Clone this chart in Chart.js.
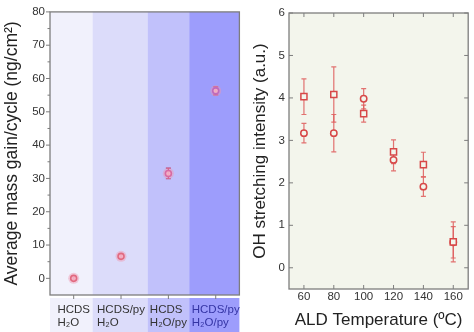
<!DOCTYPE html>
<html>
<head>
<meta charset="utf-8">
<script src="https://cdn.jsdelivr.net/npm/chart.js@4/dist/chart.umd.min.js"></script>
<style>
  body { margin: 0; background: #fff; }
  #wrap { position: relative; width: 474px; height: 332px; }
  canvas { position: absolute; top: 0; }
</style>
</head>
<body>
<div id="wrap">
  <canvas id="mass" width="245" height="332" style="left:0"></canvas>
  <canvas id="oh" width="229" height="332" style="left:245px"></canvas>
</div>
<script>
// left panel: mass gain per cycle for each precursor combination
const massPos = [1, 2, 3, 4];
const massLabels = [['HCDS', 'H₂O'], ['HCDS/py', 'H₂O'], ['HCDS', 'H₂O/py'], ['HCDS/py', 'H₂O/py']];
const massGain = [0, 6.6, 31.5, 56.3];
const massErr = [0.4, 0.5, 1.6, 1.2];
const bandEdges = [0.5, 1.4, 2.56, 3.44, 4.5];
const massTicks = [0, 10, 20, 30, 40, 50, 60, 70, 80];

// right panel: OH stretching intensity vs ALD temperature
const temps = [60, 80, 100, 120, 140, 160];
const ohSquare = [4.03, 4.08, 3.63, 2.73, 2.43, 0.61];
const ohSquareErr = [0.42, 0.65, 0.2, 0.28, 0.29, 0.47];
const ohCircle = [3.17, 3.17, 3.98, 2.54, 1.91, 0.6];
const ohCircleErr = [0.23, 0.44, 0.24, 0.26, 0.23, 0.37];
const ohTicks = [0, 1, 2, 3, 4, 5, 6];
const tempTicks = [60, 80, 100, 120, 140, 160];

const bandColors = ['#f1f1fc', '#dcdcfa', '#c1c1fb', '#9d9dfc'];
const labelColors = ['#333', '#333', '#333', '#3434a4'];
const massPointColors = ['#d6455a', '#d6455a', '#c64497', '#9a46c6'];
const axisGray = '#7d7d7d';
const red = '#d74848';
const fontFamily = 'Liberation Sans, Arial, sans-serif';

Chart.defaults.font.family = fontFamily;
Chart.defaults.color = '#333';

function pts(xs, ys) {
  return xs.map((x, i) => ({x: x, y: ys[i]}));
}

// vertical error bars drawn under the markers
const errorBars = {
  id: 'errorBars',
  beforeDatasetsDraw(chart) {
    const ctx = chart.ctx, xs = chart.scales.x, ys = chart.scales.y;
    chart.data.datasets.forEach(ds => {
      if (!ds.errors) return;
      ds.data.forEach((p, i) => {
        const x = xs.getPixelForValue(p.x);
        const y0 = ys.getPixelForValue(p.y - ds.errors[i]);
        const y1 = ys.getPixelForValue(p.y + ds.errors[i]);
        ctx.save();
        ctx.strokeStyle = ds.errColor;
        ctx.lineWidth = 1.2;
        ctx.beginPath();
        ctx.moveTo(x, y0); ctx.lineTo(x, y1);
        ctx.moveTo(x - 2.5, y0); ctx.lineTo(x + 2.5, y0);
        ctx.moveTo(x - 2.5, y1); ctx.lineTo(x + 2.5, y1);
        ctx.stroke();
        ctx.restore();
      });
    });
  }
};

// frame, tick marks, background; opts: inward, mirror, minor, bands, bg
function frame(opts) {
  return {
    id: 'frame',
    beforeDraw(chart) {
      const ctx = chart.ctx, a = chart.chartArea;
      const xs = chart.scales.x;
      ctx.save();
      if (opts.bg) {
        ctx.fillStyle = opts.bg;
        ctx.fillRect(a.left, a.top, a.right - a.left, a.bottom - a.top);
      }
      if (opts.bands) {
        for (let i = 0; i < bandColors.length; i++) {
          const x0 = xs.getPixelForValue(bandEdges[i]);
          const x1 = xs.getPixelForValue(bandEdges[i + 1]);
          ctx.fillStyle = bandColors[i];
          ctx.fillRect(x0, a.top, x1 - x0, a.bottom - a.top);
          ctx.fillRect(x0, a.bottom + 3, x1 - x0, chart.height - a.bottom - 3);
        }
        // two-line category labels, left aligned inside a centred block
        ctx.font = '11.5px ' + fontFamily;
        ctx.textBaseline = 'middle';
        ctx.textAlign = 'left';
        massPos.forEach((v, i) => {
          const lines = massLabels[i];
          const w = Math.max(...lines.map(t => ctx.measureText(t).width));
          const x = xs.getPixelForValue(v) - w / 2;
          ctx.fillStyle = labelColors[i];
          lines.forEach((t, j) => ctx.fillText(t, x, a.bottom + 15 + j * 13.3));
        });
      }
      ctx.restore();
    },
    afterDraw(chart) {
      const ctx = chart.ctx, a = chart.chartArea;
      const xs = chart.scales.x, ys = chart.scales.y;
      const d = opts.inward ? 1 : -1;
      ctx.save();
      ctx.strokeStyle = axisGray;
      ctx.lineWidth = 1.3;
      ctx.strokeRect(a.left, a.top, a.right - a.left, a.bottom - a.top);
      ctx.lineWidth = 1;
      ctx.beginPath();
      xs.ticks.forEach(t => {
        const x = xs.getPixelForValue(t.value);
        ctx.moveTo(x, a.bottom); ctx.lineTo(x, a.bottom - d * 4);
        if (opts.mirror) { ctx.moveTo(x, a.top); ctx.lineTo(x, a.top + 4); }
      });
      ys.ticks.forEach(t => {
        const y = ys.getPixelForValue(t.value);
        ctx.moveTo(a.left, y); ctx.lineTo(a.left + d * 4, y);
        if (opts.mirror) { ctx.moveTo(a.right, y); ctx.lineTo(a.right - 4, y); }
      });
      if (opts.minor) {
        const step = ys.ticks[1].value - ys.ticks[0].value;
        for (let i = 0; i < ys.ticks.length; i++) {
          const v = ys.ticks[i].value + step / 2;
          if (v > ys.max) break;
          const y = ys.getPixelForValue(v);
          ctx.moveTo(a.left, y); ctx.lineTo(a.left + d * 2.5, y);
        }
      }
      ctx.stroke();
      ctx.restore();
    }
  };
}

new Chart(document.getElementById('mass'), {
  type: 'scatter',
  data: {
    datasets: [{
      data: pts(massPos, massGain),
      pointRadius: 5.5,
      backgroundColor: 'rgba(240,150,175,0.45)',
      borderWidth: 0
    }, {
      data: pts(massPos, massGain),
      errors: massErr,
      errColor: '#c04070',
      pointRadius: 3,
      borderWidth: 1.6,
      borderColor: massPointColors,
      backgroundColor: 'rgba(250,200,215,0.9)'
    }]
  },
  options: {
    responsive: false,
    animation: false,
    layout: {padding: {top: 5, right: 2, left: 0, bottom: 0}},
    plugins: {legend: {display: false}, tooltip: {enabled: false}},
    scales: {
      x: {
        type: 'linear', min: 0.5, max: 4.5,
        afterBuildTicks: s => { s.ticks = massPos.map(v => ({value: v})); },
        afterFit: s => { s.height = 37; },
        grid: {display: false, drawTicks: false},
        border: {display: false},
        ticks: {display: false}
      },
      y: {
        min: -5, max: 80,
        afterBuildTicks: s => { s.ticks = massTicks.map(v => ({value: v})); },
        afterFit: s => { s.width = 50; },
        grid: {display: false, drawTicks: false},
        border: {display: false},
        ticks: {padding: 5, font: {size: 11.5}},
        title: {
          display: true,
          text: 'Average mass gain/cycle (ng/cm²)',
          font: {size: 17.5},
          color: '#222',
          padding: {top: 2, bottom: 0}
        }
      }
    }
  },
  plugins: [frame({bands: true, inward: false, mirror: false, minor: true}), errorBars]
});

new Chart(document.getElementById('oh'), {
  type: 'scatter',
  data: {
    datasets: [{
      data: pts(temps, ohSquare),
      errors: ohSquareErr,
      errColor: 'rgba(222,90,90,0.85)',
      pointStyle: 'rect',
      pointRadius: 4.3,
      borderWidth: 1.5,
      borderColor: red,
      backgroundColor: '#f3f5ec'
    }, {
      data: pts(temps, ohCircle),
      errors: ohCircleErr,
      errColor: 'rgba(222,90,90,0.85)',
      pointStyle: 'circle',
      pointRadius: 3.2,
      borderWidth: 1.5,
      borderColor: red,
      backgroundColor: '#f3f5ec'
    }]
  },
  options: {
    responsive: false,
    animation: false,
    layout: {padding: {top: 13, right: 2, left: 0, bottom: 0}},
    plugins: {legend: {display: false}, tooltip: {enabled: false}},
    scales: {
      x: {
        type: 'linear', min: 50, max: 170,
        afterBuildTicks: s => { s.ticks = tempTicks.map(v => ({value: v})); },
        afterFit: s => { s.height = 43; },
        grid: {display: false, drawTicks: false},
        border: {display: false},
        ticks: {padding: 1, font: {size: 11.5}},
        title: {
          display: true,
          text: 'ALD Temperature (ºC)',
          font: {size: 17},
          color: '#222',
          padding: {top: 0, bottom: 1}
        }
      },
      y: {
        min: -0.5, max: 6,
        afterBuildTicks: s => { s.ticks = ohTicks.map(v => ({value: v})); },
        afterFit: s => { s.width = 44; },
        grid: {display: false, drawTicks: false},
        border: {display: false},
        ticks: {padding: 4, font: {size: 11.5}},
        title: {
          display: true,
          text: 'OH stretching intensity (a.u.)',
          font: {size: 17},
          color: '#222',
          padding: {top: 5.5, bottom: 0}
        }
      }
    }
  },
  plugins: [frame({bg: '#f3f5ec', inward: true, mirror: true, minor: false}), errorBars]
});
</script>
</body>
</html>
